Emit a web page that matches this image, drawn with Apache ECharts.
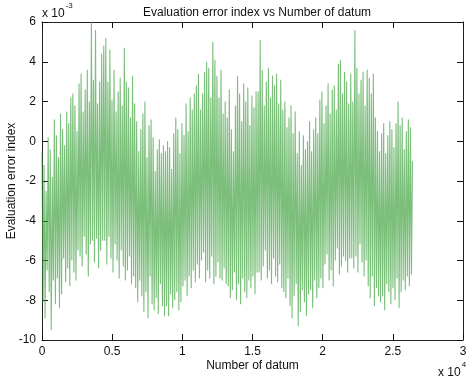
<!DOCTYPE html>
<html>
<head>
<meta charset="utf-8">
<script src="https://cdn.jsdelivr.net/npm/echarts@6/dist/echarts.min.js"></script>
<style>html,body{margin:0;padding:0;background:#fff;}#c{width:474px;height:379px;}</style>
</head>
<body>
<div id="c"></div>
<script>
// Last datum index (x value of final sample)
const xEnd = 26400;
// Evaluation error index (x 10^-3), in order of datum
const errorValues = [
  -0.5,-8.1, -1.2,-8.9, -2.5,-6.5, 0.2,-7.6, -0.4,-9.5, -1.8,-7.0, 1.1,-8.2, 0.3,-6.9, -0.8,-8.4, 1.4,-7.7, 0.6,-5.9, -0.2,-7.1, 1.5,-6.4, 0.9,-7.3, 2.2,-6.0,
  2.4,-6.6, 1.8,-7.0, 0.5,-5.5, 2.9,-5.8, 3.4,-6.3, 1.5,-4.8, 2.6,-5.7, 3.6,-6.8, 2.0,-5.2, 6.0,-5.0, 3.1,-6.1, 5.6,-4.9, 1.9,-6.4, 3.0,-5.5, 4.4,-5.0,
  4.8,-5.0, 5.2,-6.2, 3.0,-4.8, 4.6,-5.9, 2.1,-6.6, 3.6,-5.2, 1.5,-6.0, 2.5,-6.9, 3.2,-5.5, 1.8,-6.3, 4.7,-7.0, 3.0,-6.5, 2.7,-5.8, 1.2,-7.2, 3.3,-6.8,
  1.9,-7.4, 1.0,-8.1, -0.5,-7.0, 0.6,-7.8, 1.4,-8.6, 2.0,-7.6, -0.8,-8.9, 0.8,-6.8, 1.1,-8.2, 0.2,-8.5, -1.5,-7.9, -0.4,-8.7, 0.1,-7.2, -0.6,-8.3, -0.2,-8.8,
  -0.5,-8.3, 0.0,-8.8, -0.3,-7.7, -1.4,-8.4, 0.4,-8.0, 1.2,-7.6, 0.6,-8.5, -0.6,-8.1, 0.9,-7.3, 0.3,-7.0, 1.9,-7.8, 0.5,-6.8, 2.2,-7.4, 1.6,-6.5, 2.4,-7.1,
  2.8,-6.2, 3.4,-6.9, 1.6,-6.0, 2.4,-5.6, 3.5,-7.1, 4.0,-6.5, 3.7,-6.9, 2.2,-5.8, 5.0,-7.2, 4.1,-6.8, 3.3,-6.1, 2.2,-6.9, 3.6,-7.0, 1.4,-6.4, 2.0,-7.2,
  1.2,-7.3, 2.6,-7.9, 0.6,-7.5, -0.5,-6.6, 1.8,-8.0, 3.3,-7.2, 2.4,-8.2, 1.0,-6.9, 2.9,-7.6, 2.0,-7.9, 2.7,-7.0, 0.8,-7.4, 2.3,-6.8, 1.7,-7.7, 2.5,-6.6,
  2.5,-6.6, 5.1,-7.0, 3.6,-6.3, 1.8,-5.5, 3.0,-6.9, 3.7,-6.5, 2.2,-7.2, 3.3,-5.9, 2.8,-6.8, 3.4,-7.1, 1.9,-6.2, 3.1,-7.4, 1.6,-7.6, 2.0,-7.9, 0.7,-6.9,
  1.2,-8.3, 1.8,-8.9, 0.4,-7.8, 1.5,-7.2, -0.6,-9.3, 0.5,-8.6, -1.2,-7.5, 0.3,-8.1, -0.4,-8.8, 0.0,-7.7, 1.0,-7.5, -0.5,-8.4, 0.6,-7.0, 1.2,-7.9, 0.4,-7.4,
  2.1,-6.9, 2.5,-7.4, 0.9,-6.2, 1.8,-5.7, 2.9,-7.0, 1.4,-6.5, 2.6,-7.3, 2.8,-6.0, 1.6,-5.4, 3.9,-6.7, 4.1,-6.3, 2.4,-5.8, 3.5,-6.0, 3.0,-6.6, 1.9,-5.9,
  3.4,-5.9, 2.0,-6.4, 5.6,-5.8, 3.7,-6.6, 2.4,-5.2, 3.1,-6.1, 3.5,-6.8, 1.8,-6.0, 3.6,-7.3, 3.2,-7.9, 2.4,-6.8, 3.4,-8.3, 1.2,-7.4, 0.5,-7.8, -0.5,-8.1,
  0.4,-7.8, 0.9,-8.5, -0.6,-7.2, 0.3,-7.6, 1.0,-8.2, 0.6,-7.4, -0.3,-8.0, 0.9,-6.9, 2.0,-8.4, 0.8,-7.6, 1.2,-7.0, -0.4,-7.5, 0.5,-6.8, 1.1,-7.3, 0.7,-6.7,
  -1.0
];
const xTickLabels = ['0', '0.5', '1', '1.5', '2', '2.5', '3'];
const yTickLabels = ['-10', '-8', '-6', '-4', '-2', '0', '2', '4', '6'];

const n = errorValues.length;
const seriesData = errorValues.map((v, i) => [i * xEnd / (n - 1), v]);

const FONT = 'Liberation Sans, Arial, sans-serif';
const chart = echarts.init(document.getElementById('c'), null, {renderer: 'canvas'});
const mkLine = () => ({show: true, onZero: false, lineStyle: {color: '#222', width: 1}});
const mkTick = () => ({show: true, inside: true, length: 6, lineStyle: {color: '#111', width: 1}});
chart.setOption({
  animation: false,
  backgroundColor: '#fff',
  title: {
    text: 'Evaluation error index vs Number of datum',
    left: 252, top: 2, textAlign: 'center',
    textStyle: {fontFamily: FONT, fontSize: 12, fontWeight: 'normal', color: '#111'}
  },
  grid: {left: 42, right: 11, top: 22, bottom: 39, containLabel: false, outerBoundsMode: 'none'},
  xAxis: [{
    type: 'value', min: 0, max: 30000, interval: 5000,
    axisLine: mkLine(), axisTick: mkTick(), splitLine: {show: false},
    axisLabel: {fontFamily: FONT, fontSize: 12, color: '#111', margin: 6,
      formatter: v => xTickLabels[Math.round(v / 5000)]},
    name: 'Number of datum', nameLocation: 'middle', nameGap: 20, nameMoveOverlap: false,
    nameTextStyle: {fontFamily: FONT, fontSize: 12, color: '#111'}
  }, {
    type: 'value', position: 'top', min: 0, max: 30000, interval: 5000,
    axisLine: mkLine(), axisTick: mkTick(), axisLabel: {show: false}, splitLine: {show: false}
  }],
  yAxis: [{
    type: 'value', min: -10, max: 6, interval: 2,
    axisLine: mkLine(), axisTick: mkTick(), splitLine: {show: false},
    axisLabel: {fontFamily: FONT, fontSize: 12, color: '#111', margin: 6,
      formatter: v => yTickLabels[Math.round((v + 10) / 2)]},
    name: 'Evaluation error index', nameLocation: 'middle', nameGap: 24, nameMoveOverlap: false,
    nameTextStyle: {fontFamily: FONT, fontSize: 12, color: '#111'}
  }, {
    type: 'value', position: 'right', min: -10, max: 6, interval: 2,
    axisLine: mkLine(), axisTick: mkTick(), axisLabel: {show: false}, splitLine: {show: false}
  }],
  series: [{
    type: 'line', data: seriesData, showSymbol: false, symbol: 'none',
    lineStyle: {color: 'rgba(60,160,60,0.68)', width: 1.1},
    clip: true
  }],
  graphic: [{
    type: 'text', left: 42, top: 2,
    style: {text: '{b|x 10}{s|-3}', fill: '#111',
      rich: {b: {fontFamily: FONT, fontSize: 12, verticalAlign: 'bottom', padding: [6,0,0,0]},
             s: {fontFamily: FONT, fontSize: 8, verticalAlign: 'top', padding: [0,0,0,1]}}}
  }, {
    type: 'text', left: 438, top: 361,
    style: {text: '{b|x 10}{s|4}', fill: '#111',
      rich: {b: {fontFamily: FONT, fontSize: 12, verticalAlign: 'bottom', padding: [6,0,0,0]},
             s: {fontFamily: FONT, fontSize: 8, verticalAlign: 'top', padding: [0,0,0,1]}}}
  }]
});
</script>
</body>
</html>
